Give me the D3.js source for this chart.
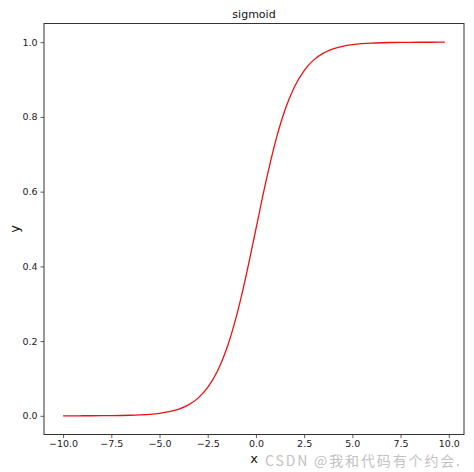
<!DOCTYPE html>
<html><head><meta charset="utf-8">
<script src="https://cdn.jsdelivr.net/npm/d3@7"></script>
<style>body{margin:0;background:#fff;}svg{display:block;}</style>
</head><body>
<script>
const xValues = [-10,-9.5,-9,-8.5,-8,-7.5,-7,-6.5,-6,-5.5,-5,-4.5,-4,-3.5,-3,-2.5,-2,-1.5,-1,-0.5,0,0.5,1,1.5,2,2.5,3,3.5,4,4.5,5,5.5,6,6.5,7,7.5,8,8.5,9,9.5,9.8];
const yValues = [0.00005,0.00007,0.00012,0.0002,0.00034,0.00055,0.00091,0.0015,0.0025,0.0041,0.0067,0.011,0.018,0.0293,0.0474,0.0759,0.1192,0.1824,0.2689,0.3775,0.5,0.6225,0.7311,0.8176,0.8808,0.9241,0.9526,0.9707,0.982,0.989,0.9933,0.9959,0.9975,0.9985,0.9991,0.99945,0.99966,0.9998,0.99988,0.99993,0.99995];
const xTicks = [-10,-7.5,-5,-2.5,0,2.5,5,7.5,10];
const yTicks = [0,0.2,0.4,0.6,0.8,1.0];
const title = "sigmoid", xLabel = "x", yLabel = "y";
const watermark = "CSDN @我和代码有个约会.";

const W = 474, H = 472;
const L = 44, R = 464, T = 23.5, B = 434.5;
const svg = d3.select("body").append("svg").attr("width", W).attr("height", H);
const x = d3.scaleLinear().domain([-10.99, 10.79]).range([L, R]);
const y = d3.scaleLinear().domain([-0.05, 1.05]).range([B, T]);
const font = "DejaVu Sans, sans-serif";

const xa = svg.append("g").attr("transform", `translate(0,${B})`)
  .call(d3.axisBottom(x).tickValues(xTicks).tickSize(3.5).tickPadding(2)
    .tickFormat(d => d3.format(".1f")(d).replace("-", "\u2212")));
const ya = svg.append("g").attr("transform", `translate(${L},0)`)
  .call(d3.axisLeft(y).tickValues(yTicks).tickSize(3.5).tickPadding(3)
    .tickFormat(d3.format(".1f")));
[xa, ya].forEach(g => {
  g.select(".domain").remove();
  g.selectAll("line").attr("stroke", "#333").attr("stroke-width", 0.8);
  g.selectAll("text").attr("font-family", font).attr("font-size", 9.5).attr("fill", "#222");
});

svg.append("rect").attr("x", L).attr("y", T).attr("width", R - L).attr("height", B - T)
  .attr("fill", "none").attr("stroke", "#333").attr("stroke-width", 1);

const pts = xValues.map((v, i) => [v, yValues[i]]);
svg.append("path").datum(pts)
  .attr("d", d3.line().x(d => x(d[0])).y(d => y(d[1])).curve(d3.curveMonotoneX))
  .attr("fill", "none").attr("stroke", "#ee1111").attr("stroke-width", 1.3);

svg.append("text").attr("x", (L + R) / 2).attr("y", 18).attr("text-anchor", "middle")
  .attr("font-family", font).attr("font-size", 11).attr("fill", "#111").text(title);
svg.append("text").attr("x", (L + R) / 2).attr("y", 463).attr("text-anchor", "middle")
  .attr("font-family", font).attr("font-size", 13).attr("fill", "#111").text(xLabel);
svg.append("text").attr("transform", `translate(19,${(T + B) / 2}) rotate(-90)`).attr("text-anchor", "middle")
  .attr("font-family", font).attr("font-size", 13).attr("fill", "#111").text(yLabel);
svg.append("text").attr("x", 265).attr("y", 465.5)
  .attr("font-family", "Noto Sans CJK SC, sans-serif").attr("font-size", 14).attr("fill", "#c2c2c2")
  .attr("textLength", 195).attr("lengthAdjust", "spacing")
  .text(watermark);
</script>
</body></html>
